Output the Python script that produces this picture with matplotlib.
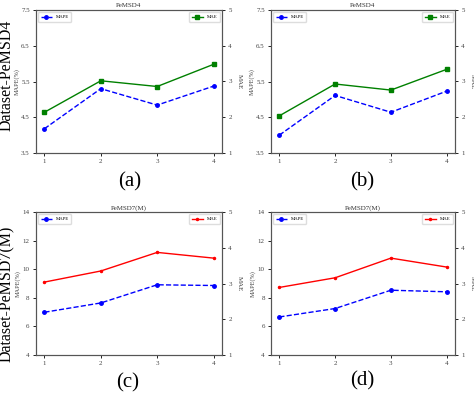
import matplotlib
matplotlib.use("Agg")
import matplotlib.pyplot as plt

plt.rcParams['font.family'] = ['Liberation Serif', 'DejaVu Serif']

x = [1, 2, 3, 4]
titles = ["PeMSD4", "PeMSD4", "PeMSD7(M)", "PeMSD7(M)"]
panel_labels = ["(a)", "(b)", "(c)", "(d)"]
row_labels = ["Dataset-PeMSD4", "Dataset-PeMSD7(M)"]

mape_a = [4.18, 5.30, 4.84, 5.37]
mae_a = [2.14, 3.02, 2.86, 3.48]
mape_b = [4.00, 5.11, 4.64, 5.23]
mae_b = [2.04, 2.93, 2.76, 3.34]
mape_c = [6.99, 7.64, 8.91, 8.86]
mae_c = [3.04, 3.35, 3.87, 3.71]
mape_d = [6.66, 7.25, 8.53, 8.42]
mae_d = [2.89, 3.16, 3.71, 3.46]

mape_ticks_top = [3.5, 4.5, 5.5, 6.5, 7.5]
mape_ticks_bot = [4, 6, 8, 10, 12, 14]
mae_ticks = [1, 2, 3, 4, 5]

W, H = 474, 393
fig = plt.figure(figsize=(W / 100, H / 100), dpi=100)

def rect(l, r, t, b):
    return [l / W, 1 - b / H, (r - l) / W, (b - t) / H]

panels = [
    (rect(36, 222, 10, 153), mape_a, mae_a, mape_ticks_top, 'green', 's'),
    (rect(271, 455, 10, 153), mape_b, mae_b, mape_ticks_top, 'green', 's'),
    (rect(36, 222, 212, 355), mape_c, mae_c, mape_ticks_bot, 'red', '.'),
    (rect(271, 455, 212, 355), mape_d, mae_d, mape_ticks_bot, 'red', '.'),
]

fs = 5
for i, (r, mape, mae, mticks, c2, m2) in enumerate(panels):
    ax = fig.add_axes(r)
    ax.plot(x, mape, color='blue', linestyle='--', marker='o',
            markersize=2.5, linewidth=1.0, label='MAPE')
    ax.set_ylim(mticks[0], mticks[-1])
    ax.set_yticks(mticks)
    ax.set_yticklabels([str(t) for t in mticks], fontsize=fs, color='#444444')
    ax.set_xticks(x)
    ax.set_xticklabels([str(v) for v in x], fontsize=fs, color='#444444')
    ax.set_ylabel('MAPE(%)', fontsize=4.5, color='#444444', labelpad=1)
    ax.set_title(titles[i], fontsize=fs, pad=2, color='#333333')
    ax.tick_params(length=2.5, width=0.6, pad=2)
    ax.legend(loc='upper left', fontsize=3.5, handlelength=2.2,
              borderpad=0.5, framealpha=1, edgecolor='#dddddd')
    ax2 = ax.twinx()
    ax2.plot(x, mae, color=c2, linestyle='-', marker=m2,
             markersize=2.5 if m2 == 's' else 3, linewidth=1.0, label='MAE')
    ax2.set_ylim(1, 5)
    ax2.set_yticks(mae_ticks)
    ax2.set_yticklabels([str(t) for t in mae_ticks], fontsize=fs, color='#444444')
    ax2.set_ylabel('MAE', fontsize=fs, color='#444444', rotation=-90, labelpad=7)
    ax2.tick_params(length=2.5, width=0.6, pad=2)
    ax2.legend(loc='upper right', fontsize=3.5, handlelength=2.2,
               borderpad=0.5, framealpha=1, edgecolor='#dddddd')
    for a in (ax, ax2):
        for s in a.spines.values():
            s.set_linewidth(0.8)
            s.set_color('#555555')

fig.text(130 / W, 1 - 182 / H, panel_labels[0], fontsize=15, ha='center', va='center')
fig.text(362 / W, 1 - 182 / H, panel_labels[1], fontsize=15, ha='center', va='center')
fig.text(128 / W, 1 - 383 / H, panel_labels[2], fontsize=15, ha='center', va='center')
fig.text(362 / W, 1 - 381 / H, panel_labels[3], fontsize=15, ha='center', va='center')

fig.text(7 / W, 1 - 75 / H, row_labels[0], fontsize=11.5, rotation=90, ha='center', va='center')
fig.text(7 / W, 1 - 294 / H, row_labels[1], fontsize=11.5, rotation=90, ha='center', va='center')

fig.savefig('out.png', dpi=100)
